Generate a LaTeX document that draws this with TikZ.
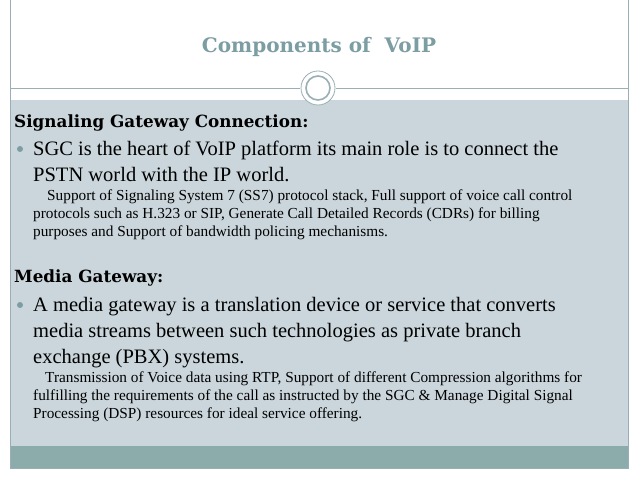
\documentclass[tikz,border=0pt]{standalone}
\usepackage{fontspec}
\setmainfont{Liberation Serif}
\newfontfamily\hdfont{DejaVu Serif}
\definecolor{ttl}{HTML}{7C9EA3}
\definecolor{panel}{HTML}{CAD6DC}
\definecolor{bar}{HTML}{8BACAB}
\definecolor{frame}{HTML}{9AAFB5}
\begin{document}
\begin{tikzpicture}[x=1pt,y=-1pt,
  big/.style={anchor=base west,inner sep=0,font=\fontsize{20.5}{21}\selectfont},
  small/.style={anchor=base west,inner sep=0,font=\fontsize{15.3}{16}\selectfont},
  head/.style={anchor=base west,inner sep=0,font=\hdfont\fontsize{16.8}{17}\selectfont\bfseries},
  bul/.style={circle,fill=ttl,inner sep=0,minimum size=6pt}]
\useasboundingbox (0,0) rectangle (638,478);
\fill[white] (0,0) rectangle (638,478);
\fill[panel] (10,100) rectangle (628,446);
\fill[bar] (10,446) rectangle (628,468);
\draw[frame,line width=0.6] (10,0) -- (10,468) -- (628,468) -- (628,0);
\draw[frame,line width=0.5] (10,88) -- (300,88) (336,88) -- (628,88);
\node[circle,draw=frame,line width=0.8,minimum size=34pt,fill=white] (c) at (318,88) {};
\node[circle,draw=frame,line width=1.6,minimum size=24pt] (c2) at (318,88) {};
\node[inner sep=0,font=\hdfont\fontsize{20}{21}\selectfont\bfseries,text=ttl] (t) at (319,47) {Components of \ VoIP};
\node[head] (h1) at (14,128) {Signaling Gateway Connection:};
\node[bul] (b1) at (20,149) {};
\node[big] (a1) at (33,156) {SGC is the heart of VoIP platform its main role is to connect the};
\node[big] (a2) at (33,182) {PSTN world with the IP world.};
\node[small] (s1) at (47,201) {Support of Signaling System 7 (SS7) protocol stack, Full support of voice call control};
\node[small] (s2) at (33,219) {protocols such as H.323 or SIP, Generate Call Detailed Records (CDRs) for billing};
\node[small] (s3) at (33,237) {purposes and Support of bandwidth policing mechanisms.};
\node[head] (h2) at (14,283) {Media Gateway:};
\node[bul] (b2) at (20,305) {};
\node[big] (m1) at (33,312) {A media gateway is a translation device or service that converts};
\node[big] (m2) at (33,338) {media streams between such technologies as private branch};
\node[big] (m3) at (33,364) {exchange (PBX) systems.};
\node[small] (n1) at (45,383) {Transmission of Voice data using RTP, Support of different Compression algorithms for};
\node[small] (n2) at (33,401) {fulfilling the requirements of the call as instructed by the SGC \& Manage Digital Signal};
\node[small] (n3) at (33,419) {Processing (DSP) resources for ideal service offering.};
\end{tikzpicture}
\end{document}
